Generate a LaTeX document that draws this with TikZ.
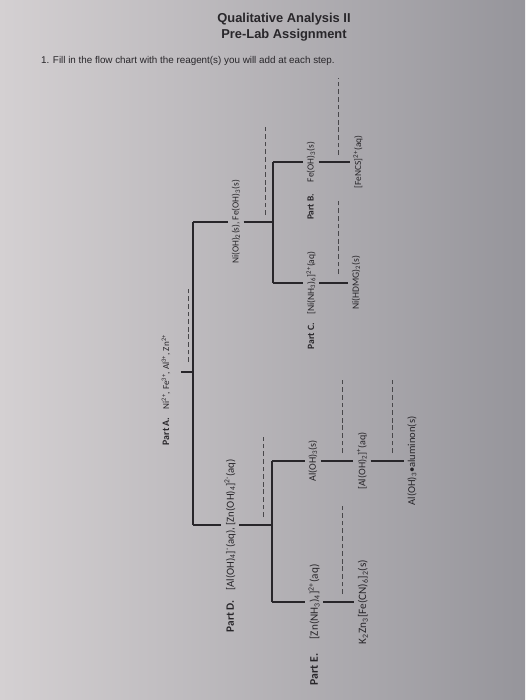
\documentclass[tikz,border=0pt]{standalone}
\usepackage{fontspec}
\setmainfont{Liberation Sans}
\newfontfamily\chartfont{Carlito}
\usetikzlibrary{calc}

\definecolor{paperlight}{RGB}{212,208,210}
\definecolor{paperdark}{RGB}{150,149,155}
\definecolor{ink}{RGB}{40,38,42}

\newcommand{\chsub}[1]{\textsubscript{#1}}
\newcommand{\chsup}[1]{\textsuperscript{#1}}

\tikzset{
  chem/.style={rotate=90, inner sep=0pt, outer sep=3pt, text=ink,
    font=\chartfont\fontsize{#1}{#1}\selectfont},
  chem/.default=8,
  partlbl/.style={rotate=90, inner sep=0pt, text=ink,
    font=\chartfont\bfseries\fontsize{#1}{#1}\selectfont},
  partlbl/.default=8,
  link/.style={draw=ink, line width=1.6pt},
  blank/.style={draw=ink!85, line width=0.7pt, dash pattern=on 4pt off 2.5pt},
}

\begin{document}
\begin{tikzpicture}[x=0.03cm, y=-0.03cm]
\useasboundingbox (0,0) rectangle (525,700);
\shade[left color=paperlight, right color=paperdark] (0,0) rectangle (525,700);

\node[font=\bfseries\fontsize{11}{14}\selectfont, align=center, text=ink] (title) at (284,27)
  {Qualitative Analysis II\\Pre-Lab Assignment};
\node[font=\fontsize{8.4}{10}\selectfont, anchor=west, text=ink] (task) at (37,61)
  {1. Fill in the flow chart with the reagent(s) you will add at each step.};

\coordinate (bA1) at (193,222);
\coordinate (bA2) at (193,525);
\coordinate (bN1) at (273,162);
\coordinate (bN2) at (273,283);
\coordinate (bD1) at (272,461);
\coordinate (bD2) at (272,602);

\node[chem=7.8] (nA) at (166,372) {Ni\chsup{2+}, Fe\chsup{3+}, Al\chsup{3+}, Zn\chsup{2+}};
\node[partlbl=8.4, anchor=base east] (pA) at ([yshift=-4pt]nA.base west) {Part A.};

\node[chem=8] (nNF) at (236,222) {Ni(OH)\chsub{2}(s), Fe(OH)\chsub{3}(s)};
\node[chem=9.2] (nD) at (230,525) {[Al(OH)\chsub{4}]\chsup{-}(aq), [Zn(OH)\chsub{4}]\chsup{2-}(aq)};
\node[partlbl=9.6, anchor=base east] (pD) at ([yshift=-5pt]nD.base west) {Part D.};

\node[chem=8] (nB) at (311,162) {Fe(OH)\chsub{3}(s)};
\node[partlbl=8, anchor=base east] (pB) at ([yshift=-7pt]nB.base west) {Part B.};
\node[chem=8.2] (nC) at (311,283) {[Ni(NH\chsub{3})\chsub{6}]\chsup{2+}(aq)};
\node[partlbl=8.2, anchor=base east] (pC) at ([yshift=-4pt]nC.base west) {Part C.};

\node[chem=8] (nFe) at (358,162) {[FeNCS]\chsup{2+}(aq)};
\node[chem=8.2] (nNi) at (356,283) {Ni(HDMG)\chsub{2}(s)};

\node[chem=8.6] (nAl) at (313,461) {Al(OH)\chsub{3}(s)};
\node[chem=8.6] (nAl2) at (362,461) {[Al(OH)\chsub{2}]\chsup{+}(aq)};
\node[chem=9] (nAlu) at (412,461) {Al(OH)\chsub{3}\textbullet aluminon(s)};

\node[chem=9.6] (nE) at (314,602) {[Zn(NH\chsub{3})\chsub{4}]\chsup{2+}(aq)};
\node[partlbl=10, anchor=base east] (pE) at ([yshift=-9pt]nE.base west) {Part E.};
\node[chem=9.6] (nK) at (363,602) {K\chsub{2}Zn\chsub{3}[Fe(CN)\chsub{6}]\chsub{2}(s)};

\draw[link, shorten <=6pt] (nA.south) -- (nA.south -| bA1);
\draw[link] (bA1) -- (bA2);
\draw[link] (bA1) -- (bA1 -| nNF.north);
\draw[link] (nNF.south) -- (nNF.south -| bN1);
\draw[link] (bA2) -- (bA2 -| nD.north);
\draw[link] (nD.south) -- (nD.south -| bD1);

\draw[link] (bN1) -- (bN2);
\draw[link] (bN1) -- (bN1 -| nB.north);
\draw[link] (bN2) -- (bN2 -| nC.north);
\draw[link] (nB.south) -- (nB.south -| nFe.north);
\draw[link] (nC.south) -- (nC.south -| nNi.north);

\draw[link] (bD1) -- (bD2);
\draw[link] (bD1) -- (bD1 -| nAl.north);
\draw[link] (bD2) -- (bD2 -| nE.north);
\draw[link] (nAl.south) -- (nAl.south -| nAl2.north);
\draw[link] (nAl2.south) -- (nAl2.south -| nAlu.north);
\draw[link] (nE.south) -- (nE.south -| nK.north);

\draw[blank] (188,362) -- (188,287);
\draw[blank] (265,215) -- (265,127);
\draw[blank] (263,517) -- (263,437);
\draw[blank] (338,155) -- (338,78);
\draw[blank] (338,274) -- (338,200);
\draw[blank] (342,453) -- (342,380);
\draw[blank] (392,453) -- (392,380);
\draw[blank] (342,594) -- (342,503);

\end{tikzpicture}
\end{document}
